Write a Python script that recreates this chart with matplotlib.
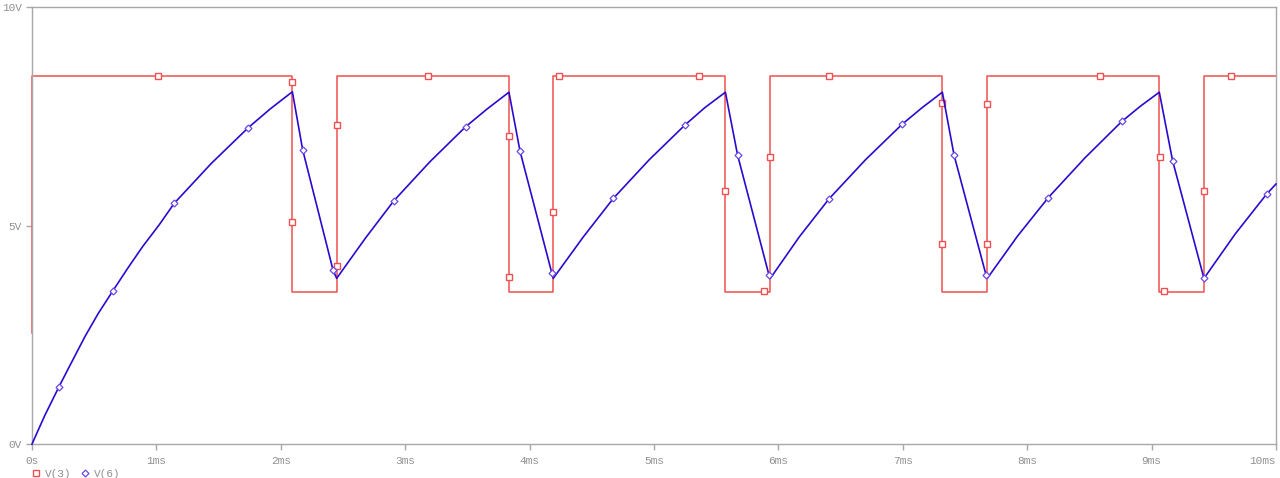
import matplotlib.pyplot as plt
from matplotlib.lines import Line2D

# V(3): square wave (ms, V)
v3_t = [0, 0, 2.093, 2.093, 2.449, 2.449, 3.834, 3.834, 4.19, 4.19, 5.574, 5.574,
        5.932, 5.932, 7.318, 7.318, 7.679, 7.679, 9.062, 9.062, 9.421, 9.421, 10]
v3_v = [2.55, 8.42, 8.42, 3.48, 3.48, 8.42, 8.42, 3.48, 3.48, 8.42, 8.42, 3.48,
        3.48, 8.42, 8.42, 3.48, 3.48, 8.42, 8.42, 3.48, 3.48, 8.42, 8.42]

# V(6): capacitor voltage (ms, V)
v6_t = [0, 0.104, 0.217, 0.30, 0.426, 0.533, 0.649, 0.769, 0.89, 1.021, 1.144,
        1.441, 1.739, 1.916, 2.093,
        2.176, 2.42, 2.449, 2.68, 2.910, 3.199, 3.486, 3.66, 3.834,
        3.923, 4.178, 4.19, 4.432, 4.673, 4.960, 5.249, 5.410, 5.574,
        5.672, 5.924, 5.935, 6.168, 6.407, 6.702, 6.996, 7.157, 7.318,
        7.412, 7.669, 7.679, 7.923, 8.170, 8.465, 8.760, 8.910, 9.062,
        9.169, 9.421, 9.673, 9.925, 10]
v6_v = [0, 0.66, 1.31, 1.77, 2.46, 2.99, 3.50, 4.02, 4.52, 5.01, 5.51,
        6.42, 7.24, 7.67, 8.06,
        6.73, 3.98, 3.79, 4.71, 5.57, 6.46, 7.26, 7.67, 8.05,
        6.70, 3.92, 3.79, 4.74, 5.62, 6.50, 7.30, 7.70, 8.05,
        6.61, 3.87, 3.79, 4.74, 5.61, 6.51, 7.32, 7.70, 8.05,
        6.61, 3.87, 3.79, 4.76, 5.64, 6.55, 7.38, 7.73, 8.05,
        6.48, 3.79, 4.81, 5.72, 5.95]

# plot symbols
v3_mk_t = [1.01, 2.093, 2.093, 2.449, 2.449, 3.183, 3.834, 3.834, 4.19, 4.234,
           5.364, 5.574, 5.884, 5.932, 6.407, 7.318, 7.318, 7.679, 7.679,
           8.585, 9.068, 9.103, 9.421, 9.636]
v3_mk_v = [8.42, 8.28, 5.07, 7.30, 4.08, 8.42, 7.05, 3.83, 5.31, 8.42,
           8.42, 5.80, 3.49, 6.56, 8.42, 7.80, 4.57, 7.77, 4.57,
           8.42, 6.56, 3.49, 5.80, 8.42]
v6_mk_t = [0.217, 0.649, 1.144, 1.739, 2.176, 2.42, 2.910, 3.486, 3.923, 4.178,
           4.673, 5.249, 5.672, 5.924, 6.407, 6.996, 7.412, 7.669, 8.170, 8.760,
           9.169, 9.421, 9.925]
v6_mk_v = [1.31, 3.50, 5.51, 7.24, 6.73, 3.98, 5.57, 7.26, 6.70, 3.92,
           5.62, 7.30, 6.61, 3.87, 5.61, 7.32, 6.61, 3.87, 5.64, 7.38,
           6.48, 3.79, 5.72]

x_ticks = list(range(11))
x_labels = ['0s'] + ['%dms' % i for i in range(1, 11)]
y_ticks = [0, 5, 10]
y_labels = ['0V', '5V', '10V']

red = '#f05050'
blue = '#2a0ad0'
purple = '#6a48e8'
gray = '#a8a8a8'
font = 'Liberation Mono'

fig = plt.figure(figsize=(12.8, 4.78), dpi=100)
ax = fig.add_axes([32 / 1280, 34 / 478, 1244 / 1280, 437 / 478])

ax.plot(v3_t, v3_v, color=red, lw=1.1, zorder=2, clip_on=False)
ax.plot(v3_mk_t, v3_mk_v, ls='none', marker='s', ms=5, mfc='white', mec=red,
        mew=1.0, zorder=3, clip_on=False)
ax.plot(v6_t, v6_v, color=blue, lw=1.2, zorder=4, clip_on=False)
ax.plot(v6_mk_t, v6_mk_v, ls='none', marker='D', ms=3.5, mfc='white', mec=purple,
        mew=0.9, zorder=5, clip_on=False)

ax.set_xlim(0, 10)
ax.set_ylim(0, 10)
for s in ax.spines.values():
    s.set_color(gray)
    s.set_linewidth(1.0)
ax.set_xticks(x_ticks)
ax.set_xticklabels(x_labels)
ax.set_yticks(y_ticks)
ax.set_yticklabels(y_labels)
ax.tick_params(colors=gray, length=4, width=1, labelsize=8)
ax.tick_params(axis='x', pad=5)
for lab in ax.get_xticklabels() + ax.get_yticklabels():
    lab.set_family(font)
    lab.set_color('#909090')
ax.get_xticklabels()[-1].set_horizontalalignment('right')

handles = [
    Line2D([], [], ls='none', marker='s', ms=5, mfc='white', mec=red, mew=1.0),
    Line2D([], [], ls='none', marker='D', ms=3.5, mfc='white', mec=purple, mew=0.9),
]
leg = fig.legend(handles, ['V(3)', 'V(6)'], loc='lower left',
                 bbox_to_anchor=(22 / 1280, -11 / 478),
                 ncol=2, frameon=False, handlelength=0.8, handletextpad=0.4,
                 columnspacing=0.8, prop={'family': font, 'size': 8})
for t in leg.get_texts():
    t.set_color('#909090')

fig.savefig('out.png', dpi=100)
